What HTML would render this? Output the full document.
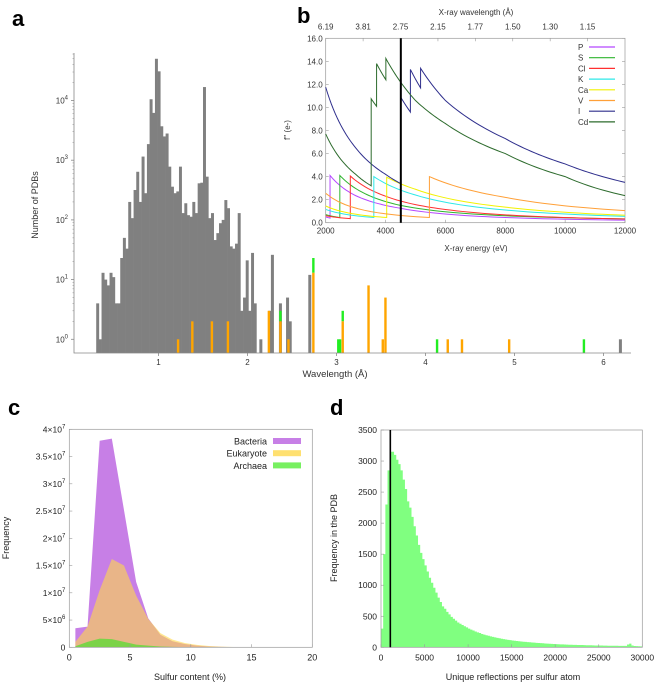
<!DOCTYPE html>
<html><head><meta charset="utf-8"><style>
html,body{margin:0;padding:0;background:#fff;}
svg{display:block;font-family:"Liberation Sans",sans-serif;}
</style></head><body>
<svg id="fig" width="660" height="685" viewBox="0 0 660 685" xmlns="http://www.w3.org/2000/svg">
<text x="12" y="26" font-size="22" font-weight="bold">a</text>
<text x="297" y="23" font-size="22" font-weight="bold">b</text>
<text x="8" y="415" font-size="22" font-weight="bold">c</text>
<text x="330" y="415" font-size="22" font-weight="bold">d</text>
</svg>
<script>
// ---------- Panel a data ----------
const aGrayStart = 0.30, aGrayEnd = 2.10;
const aGrayCounts = [4,1,13,10,8,13,11,4,4,23,50,33,200,107,317,640,200,1150,280,1860,10500,6200,50000,30800,3700,2500,2800,780,360,280,300,780,130,190,120,113,200,130,410,420,16800,530,107,130,46,60,88,100,215,157,36,33,40,130,3,5,21,3,28,4];
const aExtraGrayWl = [2.15,2.25,2.28,2.37,2.45,2.48,2.70,6.19];
const aExtraGrayCounts = [1,3,26,4,5,2,12,1];
const aOrangeWl = [1.22,1.38,1.60,1.78,2.24,2.37,2.46,2.74,3.07,3.36,3.52,3.55,4.25,4.41,4.94];
const aOrangeCounts = [1,2,2,2,3,2,1,13,2,8,1,5,1,1,1];
const aGreenWl = [2.37,2.74,3.07,3.02,3.04,4.13,5.78];
const aGreenBase = [2,13,2,0.6,0.6,0.6,0.6];
const aGreenTop = [3,23,3,1,1,1,1];
const aXTicks = [1,2,3,4,5,6];
const aYTickExp = [0,1,2,3,4];

// ---------- Panel b data ----------
const bElements = ["P","S","Cl","K","Ca","V","I","Cd"];
const bColors = ["#b548ff","#2fb52f","#ff3030","#2ee8e8","#f2f200","#ffa038","#2e2e8c","#2d6b2d"];
const bP = [[2000,0.5],[2145,0.4],[2145,4.1],[3000,2.35],[4500,1.25],[8000,0.45],[12000,0.22]];
const bS = [[2000,0.7],[2472,0.45],[2472,4.1],[3500,2.3],[4500,1.5],[8000,0.6],[12000,0.33]];
const bCl = [[2000,0.6],[2822,0.35],[2822,4.05],[4000,2.3],[6000,1.15],[9000,0.55],[12000,0.32]];
const bK = [[2000,1.15],[3608,0.45],[3608,4.0],[5000,2.4],[8000,1.1],[12000,0.55]];
const bCa = [[2000,1.45],[4038,0.45],[4038,3.95],[5000,2.9],[8000,1.35],[12000,0.65]];
const bV = [[2000,2.55],[5465,0.45],[5465,4.0],[8000,2.2],[12000,1.05]];
const bI = [[2000,11.75],[3000,6.5],[4000,4.2],[4505,3.4],[4505,10.9],[4830,9.6],[4830,13.3],[5170,11.7],[5170,13.4],[6000,10.6],[8000,7.3],[10000,5.1],[12000,3.5]];
const bCd = [[2000,7.7],[3000,4.2],[3520,3.2],[3520,10.75],[3700,10.1],[3700,13.8],[4010,12.4],[4010,14.25],[5000,10.6],[6000,8.6],[8000,6.0],[10000,4.0],[12000,2.35]];
const bXTicks = [2000,4000,6000,8000,10000,12000];
const bYTicks = [0,2,4,6,8,10,12,14,16];
const bTopEnergy = [2000,3250,4500,5750,7000,8250,9500,10750];
const bTopLabels = ["6.19","3.81","2.75","2.15","1.77","1.50","1.30","1.15"];
const bMarkerEnergy = 4510;

// ---------- Panel c data ----------
const cX = [0.5,1.5,2.5,3.5,4.5,5.5,6.5,7.5,8.5,9.5,10.5,11.5,12.5,13.5,14.5,15.5,16.5,17.5,18.5,19.5];
const cBacteria = [3.5e6,3.8e6,3.79e7,3.83e7,2.52e7,1.2e7,5.3e6,2.3e6,1.1e6,6e5,3e5,1.5e5,8e4,4e4,2e4,1e4,5e3,3e3,2e3,1e3];
const cEukaryote = [1.0e6,3.8e6,1.05e7,1.62e7,1.5e7,9.5e6,5.2e6,2.6e6,1.4e6,8e5,4.5e5,2.5e5,1.2e5,6e4,3e4,1.5e4,8e3,4e3,2e3,1e3];
const cArchaea = [2e5,1.0e6,1.6e6,1.5e6,1.0e6,5e5,3e5,1.5e5,8e4,4e4,2e4,1e4,5e3,2e3,1e3,500,200,100,50,20];
const cXTicks = [0,5,10,15,20];
const cYTicks = [0,5e6,1e7,1.5e7,2e7,2.5e7,3e7,3.5e7,4e7];
const cYLabels = [["0",""],["5×10","6"],["1×10","7"],["1.5×10","7"],["2×10","7"],["2.5×10","7"],["3×10","7"],["3.5×10","7"],["4×10","7"]];

// ---------- Panel d data ----------
const dBinWidth = 250;
const dCounts = [300,1500,2300,2850,3150,3150,3100,3020,2950,2850,2700,2550,2350,2250,2100,1950,1800,1650,1520,1420,1320,1220,1120,1040,960,880,800,730,660,620,570,530,490,460,430,400,380,360,340,320,300,285,270,255,240,230,215,205,195,185,175,168,160,152,145,138,132,126,120,115,110,
106,102,98,94,90,87,84,81,78,75,72,70,67,65,62,60,58,56,54,52,50,48,47,45,44,42,41,40,39,38,37,36,35,34,33,32,31,30,29,29,28,27,27,26,25,25,24,24,23,23,22,22,45,60,30,20,18,16,14];
const dXTicks = [0,5000,10000,15000,20000,25000,30000];
const dYTicks = [0,500,1000,1500,2000,2500,3000,3500];
const dMarker = 1070;

const svg = document.getElementById('fig');
const NS = 'http://www.w3.org/2000/svg';
function mk(tag, attrs, parent) {
  const e = document.createElementNS(NS, tag);
  for (const k in attrs) e.setAttribute(k, attrs[k]);
  (parent || svg).appendChild(e);
  return e;
}
function group(name) {
  const g = mk('g', {});
  
  
  return g;
}

// ================= Panel a =================
(function () {
  const g = group('panel-a-wavelength-histogram');
  const x = w => 158.5 + (w - 1) * 89;
  const y = v => 339.3 - 59.7 * Math.log10(v);
  const base = 353;
  const bw = (aGrayEnd - aGrayStart) / aGrayCounts.length;
  aGrayCounts.forEach((c, i) => {
    const x0 = x(aGrayStart + i * bw), x1 = x(aGrayStart + (i + 1) * bw);
    const r = mk('rect', {x: x0, y: y(c), width: x1 - x0 + 0.3, height: base - y(c), fill: '#808080'}, g);
    
    
  });
  aExtraGrayWl.forEach((w, i) => {
    const c = aExtraGrayCounts[i];
    const r = mk('rect', {x: x(w) - 1.5, y: y(c), width: 3, height: base - y(c), fill: '#808080'}, g);
    
    
  });
  aGreenWl.forEach((w, i) => {
    const yt = y(aGreenTop[i]), yb = aGreenBase[i] < 1 ? base : y(aGreenBase[i]);
    const r = mk('rect', {x: x(w) - 1.2, y: yt, width: 2.4, height: yb - yt, fill: '#22ee22'}, g);
    
    
  });
  aOrangeWl.forEach((w, i) => {
    const c = aOrangeCounts[i];
    const r = mk('rect', {x: x(w) - 1.2, y: y(c), width: 2.4, height: base - y(c), fill: '#ffa500'}, g);
    
    
  });
  const ax = mk('path', {d: `M74 53 V${base} H631`, stroke: '#888', fill: 'none', 'stroke-width': 0.8}, g);
  
  
  aXTicks.forEach(t => {
    mk('line', {x1: x(t), x2: x(t), y1: base, y2: base + 3, stroke: '#888', 'stroke-width': 0.8}, g);
    const tx = mk('text', {x: x(t), y: base + 12, 'font-size': 8, 'text-anchor': 'middle', fill: '#333'}, g);
    tx.textContent = t;
    
    
  });
  aYTickExp.forEach(e => {
    const yy = y(Math.pow(10, e));
    mk('line', {x1: 71, x2: 74, y1: yy, y2: yy, stroke: '#888', 'stroke-width': 0.8}, g);
    for (let k = 2; k < 10; k++) {
      const ym = y(k * Math.pow(10, e));
      if (ym > 53) mk('line', {x1: 72.5, x2: 74, y1: ym, y2: ym, stroke: '#888', 'stroke-width': 0.5}, g);
    }
    const tx = mk('text', {x: 68, y: yy + 3, 'font-size': 8, 'text-anchor': 'end', fill: '#333'}, g);
    
    
    const t1 = mk('tspan', {}, tx); t1.textContent = '10';
    const t2 = mk('tspan', {dy: -4, 'font-size': 6}, tx); t2.textContent = e;
  });
  const yl = mk('text', {x: 0, y: 0, 'font-size': 9, 'text-anchor': 'middle', fill: '#333', transform: 'translate(38,205) rotate(-90)'}, g);
  yl.textContent = 'Number of PDBs';
  
  
  const xl = mk('text', {x: 335, y: 377, 'font-size': 9.5, 'text-anchor': 'middle', fill: '#333'}, g);
  xl.textContent = 'Wavelength (Å)';
  
  
})();

// ================= Panel b =================
(function () {
  const g = group('panel-b-fdoubleprime-chart');
  const L = 325.7, R = 625, T = 38.3, B = 222.7;
  const x = e => L + (e - 2000) / 10000 * (R - L);
  const y = v => B - v / 16 * (B - T);
  mk('rect', {x: L - 2, y: T - 2, width: R - L + 4, height: B - T + 4, fill: '#fff'}, g);
  const fr = mk('rect', {x: L, y: T, width: R - L, height: B - T, fill: 'none', stroke: '#999', 'stroke-width': 0.7}, g);
  
  
  bYTicks.forEach(t => {
    mk('line', {x1: L, x2: L + 3, y1: y(t), y2: y(t), stroke: '#999', 'stroke-width': 0.6}, g);
    mk('line', {x1: R - 3, x2: R, y1: y(t), y2: y(t), stroke: '#999', 'stroke-width': 0.6}, g);
    const tx = mk('text', {x: L - 3, y: y(t) + 3, 'font-size': 8, 'text-anchor': 'end', fill: '#333'}, g);
    tx.textContent = t.toFixed(1);
    
    
  });
  bXTicks.forEach(t => {
    mk('line', {x1: x(t), x2: x(t), y1: B, y2: B - 3, stroke: '#999', 'stroke-width': 0.6}, g);
    const tx = mk('text', {x: x(t), y: B + 11, 'font-size': 8, 'text-anchor': 'middle', fill: '#333'}, g);
    tx.textContent = t;
    
    
  });
  bTopEnergy.forEach((e, i) => {
    mk('line', {x1: x(e), x2: x(e), y1: T, y2: T + 3, stroke: '#999', 'stroke-width': 0.6}, g);
    const tx = mk('text', {x: x(e), y: T - 9, 'font-size': 8, 'text-anchor': 'middle', fill: '#333'}, g);
    tx.textContent = bTopLabels[i];
    
    
  });
  const series = [bP, bS, bCl, bK, bCa, bV, bI, bCd];
  series.forEach((pts, si) => {
    let d = `M${x(pts[0][0])} ${y(pts[0][1])}`;
    for (let i = 1; i < pts.length; i++) {
      const [e0, v0] = pts[i - 1], [e1, v1] = pts[i];
      if (e1 === e0) { d += ` L${x(e1)} ${y(v1)}`; continue; }
      const p = Math.log(v1 / v0) / Math.log(e1 / e0);
      for (let k = 1; k <= 16; k++) {
        const e = e0 + (e1 - e0) * k / 16;
        d += ` L${x(e).toFixed(2)} ${y(v0 * Math.pow(e / e0, p)).toFixed(2)}`;
      }
    }
    const pa = mk('path', {d, fill: 'none', stroke: bColors[si], 'stroke-width': 1}, g);
    
    
  });
  const ml = mk('line', {x1: x(bMarkerEnergy), x2: x(bMarkerEnergy), y1: T, y2: B, stroke: '#000', 'stroke-width': 2}, g);
  
  
  bElements.forEach((el, i) => {
    const yy = 47 + i * 10.7;
    const tx = mk('text', {x: 578, y: yy + 3, 'font-size': 8, fill: '#333'}, g);
    tx.textContent = el;
    
    
    const ln = mk('line', {x1: 589, x2: 615, y1: yy, y2: yy, stroke: bColors[i], 'stroke-width': 1.2}, g);
    
    
  });
  const yl = mk('text', {x: 0, y: 0, 'font-size': 8, 'text-anchor': 'middle', fill: '#333', transform: 'translate(290,130) rotate(-90)'}, g);
  yl.textContent = "f'' (e-)";
  
  
  const xl = mk('text', {x: 476, y: 251, 'font-size': 8, 'text-anchor': 'middle', fill: '#333'}, g);
  xl.textContent = 'X-ray energy (eV)';
  
  
  const tl = mk('text', {x: 476, y: 15, 'font-size': 8, 'text-anchor': 'middle', fill: '#333'}, g);
  tl.textContent = 'X-ray wavelength (Å)';
  
  
})();

// ================= Panel c =================
(function () {
  const g = group('panel-c-sulfur-content-chart');
  const L = 69.3, R = 312.3, T = 429.3, B = 647.3;
  const x = v => L + v / 20 * (R - L);
  const y = v => B - v / 4e7 * (B - T);
  function area(vals, fill, op, name) {
    let d = `M${x(cX[0])} ${B}`;
    cX.forEach((cx, i) => { d += ` L${x(cx)} ${y(vals[i])}`; });
    d += ` L${x(cX[cX.length - 1])} ${B} Z`;
    const p = mk('path', {d, fill, 'fill-opacity': op}, g);
    
    
  }
  area(cBacteria, '#c77fe6', 1, 'area-bacteria');
  area(cEukaryote, '#ffd84a', 0.6, 'area-eukaryote');
  area(cArchaea, '#55dd33', 0.75, 'area-archaea');
  const fr = mk('rect', {x: L, y: T, width: R - L, height: B - T, fill: 'none', stroke: '#999', 'stroke-width': 0.7}, g);
  
  
  cXTicks.forEach(t => {
    mk('line', {x1: x(t), x2: x(t), y1: B, y2: B - 3, stroke: '#999', 'stroke-width': 0.6}, g);
    const tx = mk('text', {x: x(t), y: B + 13, 'font-size': 9, 'text-anchor': 'middle', fill: '#222'}, g);
    tx.textContent = t;
    
    
  });
  cYTicks.forEach((t, i) => {
    mk('line', {x1: L, x2: L + 3, y1: y(t), y2: y(t), stroke: '#999', 'stroke-width': 0.6}, g);
    const tx = mk('text', {x: L - 4, y: y(t) + 3, 'font-size': 8.5, 'text-anchor': 'end', fill: '#222'}, g);
    
    
    const a = mk('tspan', {}, tx); a.textContent = cYLabels[i][0];
    if (cYLabels[i][1]) { const b = mk('tspan', {dy: -4, 'font-size': 6}, tx); b.textContent = cYLabels[i][1]; }
  });
  const names = ['Bacteria', 'Eukaryote', 'Archaea'];
  const cols = ['#c77fe6', '#ffe070', '#77f060'];
  names.forEach((n, i) => {
    const yy = 441 + i * 12.2;
    const tx = mk('text', {x: 267, y: yy + 3.5, 'font-size': 9, 'text-anchor': 'end', fill: '#222'}, g);
    tx.textContent = n;
    
    
    const r = mk('rect', {x: 273, y: yy - 3, width: 28, height: 6, fill: cols[i]}, g);
    
    
  });
  const yl = mk('text', {x: 0, y: 0, 'font-size': 9, 'text-anchor': 'middle', fill: '#222', transform: 'translate(9,538) rotate(-90)'}, g);
  yl.textContent = 'Frequency';
  
  
  const xl = mk('text', {x: 190, y: 680, 'font-size': 9, 'text-anchor': 'middle', fill: '#222'}, g);
  xl.textContent = 'Sulfur content (%)';
  
  
})();

// ================= Panel d =================
(function () {
  const g = group('panel-d-reflections-histogram');
  const L = 381, R = 642.3, T = 430, B = 647.3;
  const x = v => L + v / 30000 * (R - L);
  const y = v => B - v / 3500 * (B - T);
  let d = `M${x(0)} ${B}`;
  dCounts.forEach((c, i) => {
    d += ` L${x(i * dBinWidth).toFixed(2)} ${y(c).toFixed(2)} L${x((i + 1) * dBinWidth).toFixed(2)} ${y(c).toFixed(2)}`;
  });
  d += ` L${x(dCounts.length * dBinWidth)} ${B} Z`;
  const p = mk('path', {d, fill: '#80ff80'}, g);
  
  
  const fr = mk('rect', {x: L, y: T, width: R - L, height: B - T, fill: 'none', stroke: '#999', 'stroke-width': 0.7}, g);
  
  
  const ml = mk('line', {x1: x(dMarker), x2: x(dMarker), y1: T, y2: B, stroke: '#000', 'stroke-width': 1.6}, g);
  
  
  dXTicks.forEach(t => {
    mk('line', {x1: x(t), x2: x(t), y1: B, y2: B - 3, stroke: '#999', 'stroke-width': 0.6}, g);
    const tx = mk('text', {x: x(t), y: B + 13, 'font-size': 8.5, 'text-anchor': 'middle', fill: '#222'}, g);
    tx.textContent = t;
    
    
  });
  dYTicks.forEach(t => {
    mk('line', {x1: L, x2: L + 3, y1: y(t), y2: y(t), stroke: '#999', 'stroke-width': 0.6}, g);
    const tx = mk('text', {x: L - 4, y: y(t) + 3, 'font-size': 8.5, 'text-anchor': 'end', fill: '#222'}, g);
    tx.textContent = t;
    
    
  });
  const yl = mk('text', {x: 0, y: 0, 'font-size': 9, 'text-anchor': 'middle', fill: '#222', transform: 'translate(337,538) rotate(-90)'}, g);
  yl.textContent = 'Frequency in the PDB';
  
  
  const xl = mk('text', {x: 513, y: 680, 'font-size': 9, 'text-anchor': 'middle', fill: '#222'}, g);
  xl.textContent = 'Unique reflections per sulfur atom';
  
  
})();
</script>
</body></html>
